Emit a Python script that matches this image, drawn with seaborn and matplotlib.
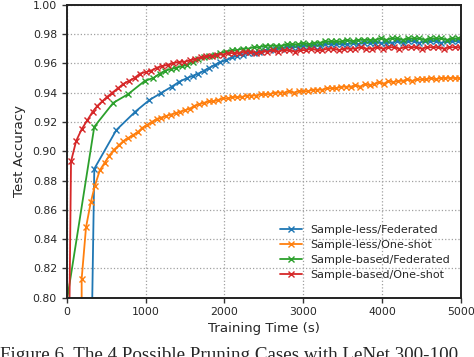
import matplotlib
matplotlib.use("Agg")
import matplotlib.pyplot as plt
import seaborn as sns
import pandas as pd

# Sample-less / Federated
t_less_fed = [120, 350, 630, 870, 1050, 1190, 1330, 1430, 1530, 1600, 1670, 1740, 1810, 1880,
              1950, 2020, 2090, 2160, 2230, 2300, 2370, 2440, 2510, 2580, 2650, 2720, 2790, 2860,
              2930, 3000, 3070, 3140, 3210, 3280, 3350, 3420, 3490, 3560, 3630, 3700, 3770, 3840,
              3910, 3980, 4050, 4120, 4190, 4260, 4330, 4400, 4470, 4540, 4610, 4680, 4750, 4820,
              4890, 4960]
acc_less_fed = [0.10, 0.888, 0.9145, 0.927, 0.935, 0.9395, 0.944, 0.9475, 0.950, 0.9515, 0.953,
                0.955, 0.957, 0.959, 0.961, 0.962, 0.964, 0.965, 0.966, 0.967, 0.967, 0.968, 0.969,
                0.969, 0.970, 0.970, 0.971, 0.971, 0.971, 0.972, 0.972, 0.972, 0.972, 0.973, 0.973,
                0.973, 0.973, 0.973, 0.974, 0.973, 0.974, 0.974, 0.974, 0.974, 0.974, 0.974, 0.975,
                0.974, 0.975, 0.975, 0.974, 0.975, 0.975, 0.975, 0.974, 0.975, 0.975, 0.975]

# Sample-less / One-shot
t_less_one = [180, 190, 245, 305, 355, 420, 480, 540, 600, 660, 720, 780, 840, 900, 960, 1020,
              1080, 1140, 1200, 1260, 1320, 1380, 1440, 1500, 1560, 1620, 1680, 1740, 1800, 1860,
              1920, 1980, 2040, 2100, 2160, 2220, 2280, 2340, 2400, 2460, 2520, 2580, 2640, 2700,
              2760, 2820, 2880, 2940, 3000, 3060, 3120, 3180, 3240, 3300, 3360, 3420, 3480, 3540,
              3600, 3660, 3720, 3780, 3840, 3900, 3960, 4020, 4080, 4140, 4200, 4260, 4320, 4380,
              4440, 4500, 4560, 4620, 4680, 4740, 4800, 4860, 4920, 4980]
acc_less_one = [0.20, 0.813, 0.848, 0.865, 0.876, 0.887, 0.892, 0.897, 0.901, 0.904, 0.907,
                0.909, 0.911, 0.913, 0.916, 0.918, 0.920, 0.922, 0.923, 0.924, 0.925, 0.926, 0.927,
                0.928, 0.929, 0.931, 0.932, 0.933, 0.934, 0.934, 0.935, 0.936, 0.936, 0.937, 0.937,
                0.937, 0.938, 0.938, 0.938, 0.939, 0.939, 0.939, 0.940, 0.940, 0.940, 0.941, 0.940,
                0.941, 0.941, 0.941, 0.942, 0.942, 0.942, 0.943, 0.943, 0.943, 0.944, 0.944, 0.944,
                0.945, 0.944, 0.946, 0.945, 0.946, 0.947, 0.946, 0.948, 0.947, 0.948, 0.948, 0.949,
                0.948, 0.949, 0.949, 0.949, 0.950, 0.949, 0.950, 0.950, 0.950, 0.950, 0.950]

# Sample-based / Federated
t_based_fed = [0, 350, 590, 780, 990, 1100, 1180, 1250, 1320, 1390, 1460, 1530, 1600, 1670, 1740,
               1810, 1880, 1950, 2020, 2090, 2160, 2230, 2300, 2370, 2440, 2510, 2580, 2650, 2720,
               2790, 2860, 2930, 3000, 3070, 3140, 3210, 3280, 3350, 3420, 3490, 3560, 3630, 3700,
               3770, 3840, 3910, 3980, 4050, 4120, 4190, 4260, 4330, 4400, 4470, 4540, 4610, 4680,
               4750, 4820, 4890, 4960]
acc_based_fed = [0.797, 0.9167, 0.933, 0.939, 0.948, 0.950, 0.953, 0.955, 0.956, 0.957, 0.958,
                 0.959, 0.961, 0.963, 0.964, 0.965, 0.966, 0.967, 0.968, 0.969, 0.969, 0.970, 0.970,
                 0.971, 0.971, 0.972, 0.972, 0.972, 0.972, 0.973, 0.973, 0.973, 0.974, 0.973, 0.974,
                 0.974, 0.975, 0.975, 0.975, 0.975, 0.976, 0.975, 0.976, 0.976, 0.976, 0.976, 0.977,
                 0.976, 0.977, 0.977, 0.976, 0.977, 0.977, 0.977, 0.976, 0.977, 0.977, 0.977, 0.976,
                 0.977, 0.977]

# Sample-based / One-shot
t_based_one = [0, 55, 120, 190, 260, 330, 390, 450, 510, 580, 650, 720, 790, 860, 930, 1000, 1070,
               1140, 1210, 1280, 1350, 1420, 1490, 1560, 1630, 1700, 1770, 1840, 1910, 1980, 2050,
               2120, 2190, 2260, 2330, 2400, 2470, 2540, 2610, 2680, 2750, 2820, 2890, 2960, 3030,
               3100, 3170, 3240, 3310, 3380, 3450, 3520, 3590, 3660, 3730, 3800, 3870, 3940, 4010,
               4080, 4150, 4220, 4290, 4360, 4430, 4500, 4570, 4640, 4710, 4780, 4850, 4920, 4990]
acc_based_one = [0.62, 0.893, 0.907, 0.915, 0.921, 0.927, 0.931, 0.934, 0.937, 0.940, 0.943,
                 0.946, 0.948, 0.950, 0.953, 0.954, 0.955, 0.957, 0.958, 0.959, 0.960, 0.961, 0.961,
                 0.962, 0.963, 0.964, 0.965, 0.965, 0.966, 0.966, 0.967, 0.967, 0.967, 0.968, 0.968,
                 0.967, 0.968, 0.968, 0.969, 0.968, 0.969, 0.969, 0.968, 0.969, 0.969, 0.970, 0.969,
                 0.969, 0.970, 0.970, 0.969, 0.970, 0.970, 0.970, 0.971, 0.970, 0.970, 0.971, 0.970,
                 0.971, 0.971, 0.970, 0.971, 0.971, 0.971, 0.970, 0.971, 0.971, 0.971, 0.970, 0.971,
                 0.971, 0.971]

cases = ["Sample-less/Federated", "Sample-less/One-shot",
         "Sample-based/Federated", "Sample-based/One-shot"]
series = [(t_less_fed, acc_less_fed), (t_less_one, acc_less_one),
          (t_based_fed, acc_based_fed), (t_based_one, acc_based_one)]
colors = ["#1f77b4", "#ff7f0e", "#2ca02c", "#d62728"]

sns.set_style("ticks")
plt.rcParams["font.family"] = ["DejaVu Sans"]

fig = plt.figure(figsize=(4.74, 3.57), dpi=100)
ax = fig.add_axes([0.1407, 0.1661, 0.8319, 0.8207])

for name, (t, a), c in zip(cases, series, colors):
    df = pd.DataFrame({"time": t, "acc": a})
    sns.lineplot(data=df, x="time", y="acc", ax=ax, color=c, label=name,
                 marker="x", markersize=5, markeredgewidth=1.0, markeredgecolor=c,
                 linewidth=1.3, estimator=None, sort=False)

ax.set_xlim(0, 5000)
ax.set_ylim(0.80, 1.00)
ax.set_yticks([0.80, 0.82, 0.84, 0.86, 0.88, 0.90, 0.92, 0.94, 0.96, 0.98, 1.00])
ax.set_xticks([0, 1000, 2000, 3000, 4000, 5000])
ax.grid(True, linestyle=":", color="#a0a0a0", linewidth=0.9)
ax.tick_params(labelsize=7.8, length=3.5, width=1, color="#333333")
for s in ax.spines.values():
    s.set_linewidth(1.4)
    s.set_color("#222222")
ax.set_xlabel("Training Time (s)", fontsize=9.6, labelpad=3)
ax.set_ylabel("Test Accuracy", fontsize=9.6, labelpad=5)
ax.legend(loc="lower right", frameon=False, fontsize=8, handlelength=1.9,
          borderaxespad=0.4, labelspacing=0.45, bbox_to_anchor=(0.995, 0.03))

# caption sits partly below the bottom edge, as in the source crop
fig.text(0.0, -0.008, "Figure 6. The 4 Possible Pruning Cases with LeNet 300-100",
         family="Liberation Serif", fontsize=13.7, ha="left", va="baseline")

fig.savefig("out.png", dpi=100)
